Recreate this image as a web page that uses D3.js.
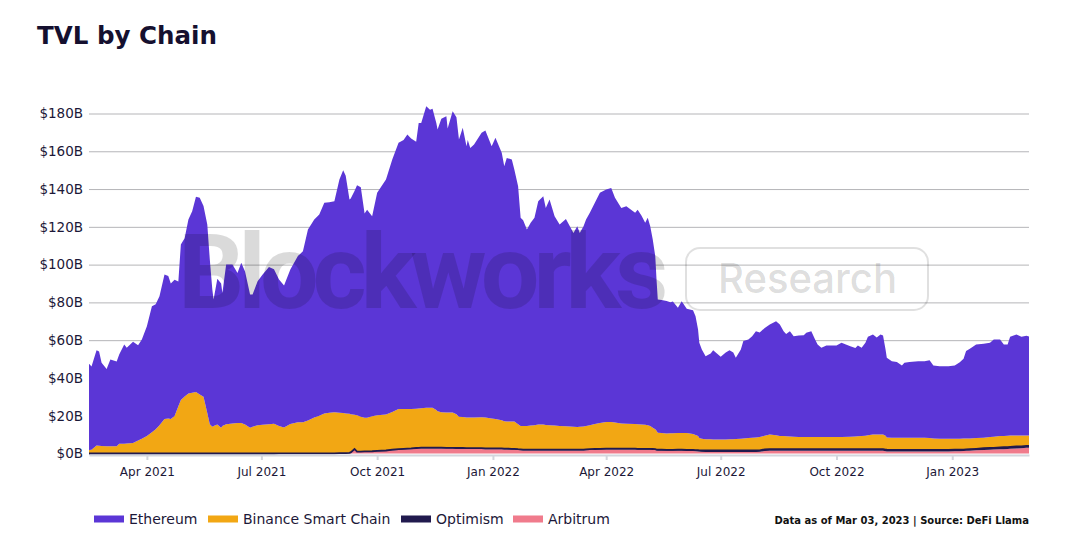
<!DOCTYPE html>
<html>
<head>
<meta charset="utf-8">
<script src="https://cdn.jsdelivr.net/npm/d3@7"></script>
<style>
  html, body { margin: 0; padding: 0; background: #ffffff; }
  svg { display: block; font-family: "DejaVu Sans", Verdana, sans-serif; }
</style>
</head>
<body>
<svg id="chart" width="1068" height="542"></svg>
<script>
// ---------------- DATA (values in $B) ----------------
const dates = [
  "2021-02-14","2021-02-16","2021-02-20","2021-02-22","2021-02-24","2021-02-28","2021-03-03","2021-03-08","2021-03-10","2021-03-14",
  "2021-03-16","2021-03-21","2021-03-25","2021-03-28","2021-04-01","2021-04-05","2021-04-08","2021-04-11","2021-04-15","2021-04-18",
  "2021-04-20","2021-04-23","2021-04-26","2021-04-28","2021-05-01","2021-05-04","2021-05-07","2021-05-10","2021-05-13","2021-05-16",
  "2021-05-19","2021-05-21","2021-05-23","2021-05-24","2021-05-27","2021-05-30","2021-05-31","2021-06-03","2021-06-08","2021-06-12",
  "2021-06-15","2021-06-18","2021-06-22","2021-06-24","2021-06-28","2021-07-02","2021-07-07","2021-07-11","2021-07-15","2021-07-19",
  "2021-07-24","2021-07-30","2021-08-03","2021-08-07","2021-08-12","2021-08-16","2021-08-20","2021-08-24","2021-08-28","2021-09-01",
  "2021-09-04","2021-09-06","2021-09-09","2021-09-10","2021-09-13","2021-09-15","2021-09-18","2021-09-21","2021-09-23","2021-09-27",
  "2021-10-01","2021-10-08","2021-10-13","2021-10-18","2021-10-22","2021-10-25","2021-10-28","2021-11-01","2021-11-03","2021-11-05",
  "2021-11-09","2021-11-12","2021-11-14","2021-11-17","2021-11-18","2021-11-21","2021-11-25","2021-11-26","2021-11-30","2021-12-03",
  "2021-12-05","2021-12-08","2021-12-11","2021-12-12","2021-12-14","2021-12-17","2021-12-23","2021-12-26","2021-12-31","2022-01-03",
  "2022-01-08","2022-01-10","2022-01-12","2022-01-16","2022-01-18","2022-01-21","2022-01-23","2022-01-25","2022-01-28","2022-01-31",
  "2022-02-03","2022-02-06","2022-02-10","2022-02-12","2022-02-15","2022-02-19","2022-02-23","2022-02-28","2022-03-06","2022-03-09",
  "2022-03-11","2022-03-14","2022-03-16","2022-03-19","2022-03-23","2022-03-27","2022-04-01","2022-04-05","2022-04-08","2022-04-13",
  "2022-04-17","2022-04-24","2022-04-26","2022-04-29","2022-05-02","2022-05-04","2022-05-06","2022-05-08","2022-05-10","2022-05-11",
  "2022-05-12","2022-05-15","2022-05-19","2022-05-22","2022-05-24","2022-05-28","2022-05-31","2022-06-04","2022-06-09","2022-06-11",
  "2022-06-13","2022-06-14","2022-06-16","2022-06-19","2022-06-23","2022-06-25","2022-06-28","2022-07-01","2022-07-05","2022-07-08",
  "2022-07-11","2022-07-13","2022-07-17","2022-07-19","2022-07-23","2022-07-26","2022-07-29","2022-08-01","2022-08-05","2022-08-09",
  "2022-08-14","2022-08-17","2022-08-20","2022-08-22","2022-08-25","2022-08-28","2022-09-01","2022-09-05","2022-09-07","2022-09-11",
  "2022-09-14","2022-09-16","2022-09-19","2022-09-23","2022-10-01","2022-10-05","2022-10-12","2022-10-16","2022-10-18","2022-10-21",
  "2022-10-24","2022-10-26","2022-10-30","2022-11-02","2022-11-05","2022-11-07","2022-11-09","2022-11-10","2022-11-14","2022-11-18",
  "2022-11-22","2022-11-24","2022-11-28","2022-12-05","2022-12-10","2022-12-14","2022-12-17","2022-12-22","2022-12-29","2023-01-03",
  "2023-01-07","2023-01-10","2023-01-12","2023-01-15","2023-01-20","2023-01-26","2023-01-31","2023-02-03","2023-02-08","2023-02-11",
  "2023-02-14","2023-02-16","2023-02-21","2023-02-25","2023-03-01","2023-03-03"
];

const ethereum = [
  45.7,44.0,50.5,49.9,44.0,40.9,45.9,44.8,47.3,52.5,
  50.7,53.5,50.4,52.5,58.2,66.8,66.2,68.3,76.6,75.5,
  71.8,72.2,66.0,82.3,83.8,92.1,96.1,103.4,104.2,101.0,
  99.7,87.2,72.7,67.0,77.1,76.4,70.5,84.5,84.1,79.5,
  84.8,81.0,70.6,70.0,76.3,79.6,83.3,81.8,77.6,75.1,
  81.8,87.9,90.5,101.1,104.9,106.5,111.5,111.4,111.8,123.4,
  128.6,125.8,113.5,114.2,118.5,121.7,121.5,108.1,110.1,105.9,
  117.7,124.4,133.6,140.9,142.4,145.4,143.1,141.3,151.2,151.0,
  159.7,157.8,158.3,152.0,149.1,155.3,156.9,150.3,159.5,157.2,
  146.8,153.1,143.6,146.9,142.7,144.5,150.6,152.0,144.2,148.8,
  141.6,135.0,139.5,138.7,133.4,126.0,110.3,109.0,104.0,107.3,
  109.8,118.3,120.9,114.9,119.5,110.8,106.7,109.8,102.6,106.3,
  102.7,106.0,109.4,112.5,117.1,121.8,123.1,123.9,119.0,114.1,
  115.1,111.8,113.5,110.6,106.9,109.8,105.7,99.7,91.6,80.1,
  70.5,70.3,70.1,69.4,69.8,66.3,69.8,65.8,65.6,62.9,
  56.4,50.4,47.2,43.9,45.4,47.3,45.6,43.8,46.1,47.2,
  45.9,43.0,47.2,51.6,52.1,53.7,56.2,55.2,57.1,58.2,
  60.4,59.0,55.5,54.2,55.7,53.2,53.7,53.8,55.1,55.9,
  51.5,48.9,47.2,48.4,48.4,49.8,47.9,46.8,48.1,46.8,
  49.2,52.2,52.9,51.3,52.9,52.4,45.6,42.2,40.6,40.1,
  38.3,39.7,40.1,40.6,40.6,41.2,38.6,38.4,38.4,38.8,
  40.5,42.2,46.2,47.4,49.5,49.7,49.9,51.4,51.1,48.4,
  48.3,52.3,53.5,52.3,52.8,52.5
];

const bsc = [
  1.8,2.0,4.2,4.1,4.0,3.9,3.9,3.9,5.1,5.2,
  5.3,5.6,6.9,7.8,9.2,11.2,12.8,15.0,18.2,18.5,
  18.2,19.8,25.0,28.3,30.2,31.8,32.2,32.5,31.2,30.0,
  21.5,15.5,14.1,14.5,15.4,13.6,14.5,15.5,15.9,16.1,
  16.2,15.3,13.6,14.2,14.9,15.2,15.5,15.7,14.4,13.7,
  15.5,16.5,16.5,17.4,18.9,19.9,21.1,21.5,21.7,21.4,
  21.2,21.0,20.7,20.2,18.1,19.3,18.5,17.8,17.8,18.5,
  18.9,19.0,20.0,21.3,21.1,20.9,20.9,20.8,20.8,20.9,
  21.1,21.1,21.1,19.9,19.3,18.8,18.7,18.7,18.7,17.9,
  16.5,16.4,16.3,16.3,16.3,16.3,16.4,16.3,15.8,15.6,
  14.9,14.5,14.4,14.4,14.4,13.2,12.3,12.4,12.5,12.7,
  12.9,13.2,13.2,13.0,12.9,12.7,12.4,12.3,12.1,11.9,
  12.0,12.2,12.3,12.6,13.2,13.7,14.1,14.1,13.8,13.3,
  13.2,13.0,13.0,12.9,12.7,12.5,12.1,11.2,10.5,9.9,
  9.0,8.9,8.7,8.8,8.8,8.8,8.8,8.9,8.4,8.0,
  7.4,6.5,6.2,6.0,5.9,5.8,5.8,5.8,5.8,5.9,
  6.0,6.1,6.2,6.3,6.6,6.8,6.9,7.1,7.2,7.8,
  7.3,7.0,6.9,6.8,6.7,6.6,6.5,6.5,6.5,6.5,
  6.5,6.5,6.5,6.5,6.5,6.5,6.6,6.7,6.8,6.9,
  7.1,7.3,7.8,7.8,7.8,7.8,7.3,6.5,6.4,6.4,
  6.4,6.4,6.4,6.4,6.4,6.3,6.1,5.9,5.9,5.8,
  5.8,5.8,5.8,5.7,5.7,5.6,5.8,5.9,6.0,6.0,
  6.0,6.0,5.8,5.7,5.5,5.5
];

const optimism = [
  0,0,0,0,0,0,0,0,0,0,
  0,0,0,0,0,0,0,0,0,0,
  0,0,0,0,0,0,0,0,0,0,
  0,0,0,0,0,0,0,0,0,0,
  0,0,0,0,0,0,0,0,0.1,0.1,
  0.1,0.1,0.1,0.1,0.1,0.1,0.1,0.1,0.1,0.2,
  0.2,0.2,0.2,0.2,0.2,0.2,0.2,0.2,0.2,0.2,
  0.3,0.3,0.4,0.4,0.4,0.4,0.4,0.4,0.4,0.4,
  0.4,0.4,0.4,0.4,0.4,0.4,0.4,0.4,0.4,0.4,
  0.4,0.4,0.4,0.4,0.4,0.4,0.4,0.4,0.4,0.5,
  0.5,0.5,0.5,0.5,0.5,0.5,0.5,0.5,0.5,0.5,
  0.5,0.5,0.5,0.5,0.5,0.5,0.5,0.5,0.5,0.5,
  0.5,0.5,0.5,0.5,0.5,0.5,0.5,0.5,0.5,0.5,
  0.5,0.5,0.5,0.5,0.5,0.5,0.5,0.5,0.5,0.5,
  0.5,0.5,0.5,0.5,0.5,0.6,0.6,0.6,0.6,0.6,
  0.7,0.7,0.7,0.8,0.8,0.8,0.8,0.8,0.8,0.8,
  0.8,0.8,0.8,0.8,0.8,0.8,0.8,0.8,0.9,0.9,
  0.9,0.9,0.9,0.9,0.9,0.9,0.9,0.9,0.9,0.9,
  0.9,0.9,0.9,0.9,0.9,0.9,0.9,0.9,0.9,0.9,
  0.9,0.9,0.9,0.9,0.9,0.9,0.9,0.9,0.8,0.8,
  0.8,0.8,0.8,0.8,0.8,0.8,0.8,0.8,0.8,0.8,
  0.8,0.8,0.8,0.8,0.8,0.9,0.9,0.9,1.0,1.0,
  1.0,1.0,1.0,1.0,1.0,1.0
];

const arbitrum = [
  0,0,0,0,0,0,0,0,0,0,
  0,0,0,0,0,0,0,0,0,0,
  0,0,0,0,0,0,0,0,0,0,
  0,0,0,0,0,0,0,0,0,0,
  0,0,0,0,0,0,0,0,0,0,
  0,0,0,0,0,0,0,0,0,0,
  0,0,0.1,0.4,2.2,0.8,0.8,0.9,0.9,1.0,
  1.1,1.3,1.6,1.9,2.1,2.2,2.3,2.5,2.6,2.7,
  2.7,2.7,2.7,2.7,2.7,2.7,2.6,2.6,2.6,2.5,
  2.5,2.5,2.4,2.4,2.4,2.4,2.4,2.3,2.3,2.2,
  2.2,2.1,2.1,2.0,2.0,1.8,1.7,1.6,1.6,1.6,
  1.6,1.6,1.6,1.6,1.6,1.6,1.6,1.6,1.6,1.6,
  1.6,1.6,1.7,1.8,1.9,2.0,2.1,2.1,2.1,2.1,
  2.1,2.1,2.0,2.0,2.0,2.0,2.0,1.9,1.8,1.6,
  1.5,1.5,1.4,1.4,1.4,1.4,1.4,1.3,1.3,1.2,
  1.1,1.0,0.9,0.8,0.8,0.8,0.8,0.8,0.8,0.8,
  0.8,0.8,0.8,0.8,0.8,0.8,0.8,0.9,1.3,1.4,
  1.4,1.4,1.4,1.4,1.4,1.4,1.4,1.4,1.4,1.4,
  1.4,1.4,1.4,1.4,1.4,1.4,1.4,1.4,1.4,1.4,
  1.4,1.4,1.4,1.4,1.4,1.4,1.2,1.1,1.1,1.1,
  1.1,1.1,1.1,1.1,1.1,1.1,1.1,1.1,1.1,1.2,
  1.2,1.3,1.4,1.5,1.7,1.9,2.0,2.1,2.2,2.3,
  2.4,2.5,2.7,2.8,3.0,3.0
];

const seriesNames = ["Ethereum", "Binance Smart Chain", "Optimism", "Arbitrum"];
const seriesColors = ["#5b36d6", "#f2a714", "#211a4e", "#f07b8c"];
const yTicks = [0, 20, 40, 60, 80, 100, 120, 140, 160, 180];
const xTicks = ["2021-04-01","2021-07-01","2021-10-01","2022-01-01","2022-04-01","2022-07-01","2022-10-01","2023-01-01"];
const domainDates = ["2021-02-14", "2023-03-03"];
const titleText = "TVL by Chain";
const sourceText = "Data as of Mar 03, 2023 | Source: DeFi Llama";

// ---------------- BUILD ----------------
const parse = d3.timeParse("%Y-%m-%d");
const rows = dates.map((d, i) => ({
  date: parse(d),
  arbitrum: arbitrum[i],
  optimism: optimism[i],
  bsc: bsc[i],
  ethereum: ethereum[i]
}));

const svg = d3.select("#chart");
const left = 89, right = 1029, bottom = 453.5;

const x = d3.scaleTime().domain(domainDates.map(parse)).range([left, right]);
const y = d3.scaleLinear().domain([0, 180]).range([bottom, 113.5]);

svg.append("rect").attr("width", 1068).attr("height", 542).attr("fill", "#ffffff");

// Y axis + gridlines
const yAxis = svg.append("g")
  .attr("transform", `translate(${left},0)`)
  .call(d3.axisLeft(y).tickValues(yTicks).tickFormat(d => "$" + d + "B")
    .tickSize(-(right - left)).tickPadding(6));
yAxis.select(".domain").remove();
yAxis.selectAll(".tick line").attr("stroke", "#b5b5b8").attr("stroke-width", 1)
  .attr("opacity", d => d === 0 ? 0 : 1);
yAxis.selectAll(".tick text").attr("fill", "#1c1838")
  .style("font-family", "DejaVu Sans").style("font-size", "13.5px");

// Stacked areas
const keys = ["arbitrum", "optimism", "bsc", "ethereum"];
const colorOf = {
  ethereum: seriesColors[0], bsc: seriesColors[1], optimism: seriesColors[2], arbitrum: seriesColors[3]
};
const stacked = d3.stack().keys(keys)(rows);

const area = d3.area()
  .x(d => x(d.data.date))
  .y0(d => y(d[0]))
  .y1(d => y(d[1]));

const topLine = d3.line()
  .x(d => x(d.data.date))
  .y(d => y(d[1]));

const gAreas = svg.append("g");
gAreas.selectAll("path.area")
  .data(stacked)
  .join("path")
  .attr("class", "area")
  .attr("d", area)
  .attr("fill", s => colorOf[s.key]);

// Optimism trace line (drawn on top)
gAreas.append("path")
  .datum(stacked[1])
  .attr("d", topLine)
  .attr("fill", "none")
  .attr("stroke", colorOf.optimism)
  .attr("stroke-width", 1.8);

// Watermark
const wm = svg.append("g").attr("pointer-events", "none");
wm.append("text")
  .attr("x", 178).attr("y", 308)
  .style("font-family", "Roboto, Inter, sans-serif")
  .style("font-weight", 700).style("font-size", "104px")
  .style("letter-spacing", "-6px")
  .attr("fill", "#000").attr("fill-opacity", 0.145)
  .text("Blockworks");
wm.append("rect")
  .attr("x", 686).attr("y", 248).attr("width", 242).attr("height", 62).attr("rx", 14)
  .attr("fill", "none").attr("stroke", "#000").attr("stroke-opacity", 0.12).attr("stroke-width", 2);
wm.append("text")
  .attr("x", 718).attr("y", 293)
  .attr("textLength", 179).attr("lengthAdjust", "spacingAndGlyphs")
  .style("font-family", "Inter, 'Open Sans', sans-serif")
  .style("font-weight", 500).style("font-size", "41px")
  .attr("fill", "#000").attr("fill-opacity", 0.15)
  .text("Research");

// X axis
const xAxis = svg.append("g")
  .attr("transform", "translate(0,455)")
  .call(d3.axisBottom(x).tickValues(xTicks.map(parse)).tickFormat(d3.timeFormat("%b %Y"))
    .tickSize(5).tickSizeOuter(0).tickPadding(7));
xAxis.select(".domain").attr("stroke", "#d3d6dd").attr("stroke-width", 2);
xAxis.selectAll(".tick line").attr("stroke", "#d3d6dd").attr("stroke-width", 2);
xAxis.selectAll(".tick text").attr("fill", "#1c1838")
  .style("font-family", "DejaVu Sans").style("font-size", "12px");

// Title
svg.append("text")
  .attr("x", 37).attr("y", 44)
  .attr("textLength", 180).attr("lengthAdjust", "spacingAndGlyphs")
  .style("font-family", "DejaVu Sans").style("font-weight", "bold").style("font-size", "24px")
  .attr("fill", "#15102f")
  .text(titleText);

// Legend
const legendX = [94, 208, 401, 513];
const legend = svg.append("g");
seriesNames.forEach((name, i) => {
  legend.append("rect")
    .attr("x", legendX[i]).attr("y", 515.5).attr("width", 30).attr("height", 7)
    .attr("fill", seriesColors[i]);
  legend.append("text")
    .attr("x", legendX[i] + 35).attr("y", 524)
    .style("font-family", "DejaVu Sans").style("font-size", "14px")
    .attr("fill", "#1c1838")
    .text(name);
});

// Source note
svg.append("text")
  .attr("x", 1029).attr("y", 523.5).attr("text-anchor", "end")
  .style("font-family", "DejaVu Sans").style("font-weight", "bold").style("font-size", "10px")
  .attr("fill", "#111111")
  .text(sourceText);
</script>
</body>
</html>
